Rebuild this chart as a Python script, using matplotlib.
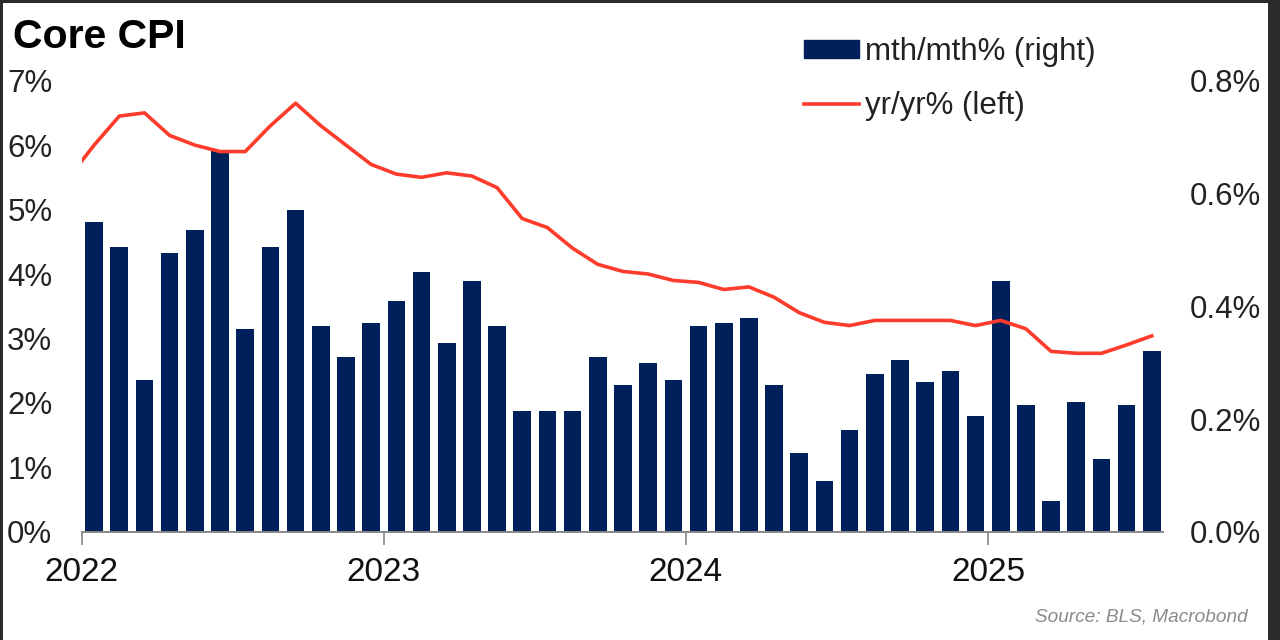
import numpy as np
import matplotlib
matplotlib.use("Agg")
import matplotlib.pyplot as plt
from matplotlib import font_manager
from matplotlib.patches import Rectangle, Patch
from matplotlib.lines import Line2D

# ---- Data ----
# monthly core CPI, Jan 2022 .. Jul 2025
mom = [0.55, 0.505, 0.27, 0.495, 0.535, 0.675, 0.36, 0.505, 0.57, 0.365, 0.31, 0.37,
       0.41, 0.46, 0.335, 0.445, 0.365, 0.215, 0.215, 0.215, 0.31, 0.26, 0.30, 0.27,
       0.365, 0.37, 0.38, 0.26, 0.14, 0.09, 0.18, 0.28, 0.305, 0.265, 0.285, 0.205,
       0.445, 0.225, 0.055, 0.23, 0.13, 0.225, 0.32]
# yr/yr starts one month earlier (Dec 2021), the first point is clipped at the axis
yoy = [5.5,
       6.0, 6.45, 6.5, 6.15, 6.0, 5.9, 5.9, 6.3, 6.65, 6.3, 6.0, 5.7,
       5.55, 5.5, 5.57, 5.52, 5.34, 4.86, 4.72, 4.4, 4.15, 4.04, 4.0, 3.9,
       3.87, 3.76, 3.8, 3.64, 3.4, 3.25, 3.2, 3.28, 3.28, 3.28, 3.28, 3.2,
       3.28, 3.15, 2.8, 2.77, 2.77, 2.9, 3.04]
years = ["2022", "2023", "2024", "2025"]
left_ticks = [0, 1, 2, 3, 4, 5, 6, 7]
right_ticks = [0.0, 0.2, 0.4, 0.6, 0.8]

NAVY = "#00205B"
RED = "#FF3B2B"

# ---- Fonts ----
available = {f.name for f in font_manager.fontManager.ttflist}
SANS = "Liberation Sans" if "Liberation Sans" in available else "DejaVu Sans"
NARROW = "Liberation Sans Narrow" if "Liberation Sans Narrow" in available else SANS
has_narrow = NARROW != SANS
plt.rcParams["font.family"] = [SANS, "DejaVu Sans"]

# ---- Figure ----
fig = plt.figure(figsize=(12.8, 6.4), dpi=100)
ax = fig.add_axes([0.0637, 0.169, 0.845, 0.705])
ax2 = ax.twinx()

x_bar = np.arange(len(mom)) + 0.5
x_line = np.arange(len(yoy)) - 0.5

ax2.bar(x_bar, mom, width=0.7, color=NAVY, zorder=2)
ax.plot(x_line, yoy, color=RED, lw=2.6, zorder=3, solid_joinstyle="round")

# line on top of bars
ax.set_zorder(ax2.get_zorder() + 1)
ax.patch.set_visible(False)

ax.set_xlim(0, 42.95)
ax.set_ylim(0, 7)
ax2.set_ylim(0, 0.8)

ax.set_yticks(left_ticks)
ax.set_yticklabels([f"{v}%" for v in left_ticks])
ax2.set_yticks(right_ticks)
ax2.set_yticklabels([f"{v:.1f}%" for v in right_ticks])
ax.tick_params(axis="y", length=0, pad=21, labelsize=22.5, labelcolor="#222222")
ax2.tick_params(axis="y", length=0, pad=19.5, labelsize=22.5, labelcolor="#222222")

ax.set_xticks([0, 12, 24, 36])
ax.set_xticklabels(years)
ax.tick_params(axis="x", length=9, width=1.2, color="#888888", pad=9)
for lab in ax.get_xticklabels():
    lab.set_fontfamily([NARROW, "DejaVu Sans"])
    lab.set_fontsize(26 if has_narrow else 24)
    lab.set_color("#111111")

for a in (ax, ax2):
    for side in ("top", "left", "right", "bottom"):
        a.spines[side].set_visible(False)
ax.spines["bottom"].set_visible(True)
ax.spines["bottom"].set_color("#888888")
ax.spines["bottom"].set_linewidth(1.4)

# ---- Title, legend, source ----
fig.text(0.010, 0.942, "Core CPI", fontsize=29.5, fontweight="bold", va="center", ha="left")

handles = [Patch(facecolor=NAVY, edgecolor=NAVY), Line2D([], [], color=RED, lw=2.6)]
fig.legend(handles, ["mth/mth% (right)", "yr/yr% (left)"],
           loc="upper left", bbox_to_anchor=(0.628, 0.942), frameon=False,
           fontsize=22.5, handlelength=1.75, handleheight=0.55, handletextpad=0.2,
           labelspacing=0.77, borderpad=0, borderaxespad=0, labelcolor="#222222")

fig.text(0.975, 0.036, "Source: BLS, Macrobond", fontsize=15 if has_narrow else 13.7,
         style="italic", family=[NARROW, "DejaVu Sans"], color="#8a8a8a",
         ha="right", va="center")

# dark screenshot frame (top, left, right)
for r in [(0, 1 - 3 / 640, 1, 3 / 640), (0, 0, 3 / 1280, 1), (1 - 12 / 1280, 0, 12 / 1280, 1)]:
    fig.patches.append(Rectangle(r[:2], r[2], r[3], transform=fig.transFigure,
                                 facecolor="#2b2b2b", edgecolor="none", zorder=10))

fig.savefig("out.png", dpi=100)
